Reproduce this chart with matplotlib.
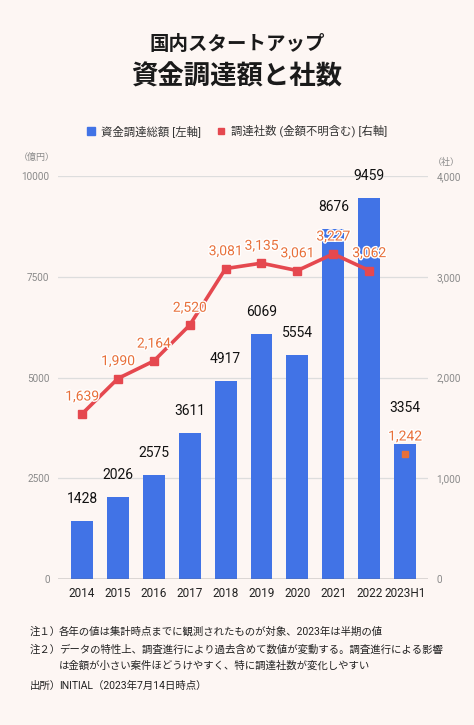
import matplotlib
matplotlib.use("Agg")
import matplotlib.pyplot as plt
import matplotlib.patheffects as pe
from matplotlib.lines import Line2D

plt.rcParams['font.family'] = ['Roboto', 'Noto Sans CJK JP', 'DejaVu Sans']

years = ["2014", "2015", "2016", "2017", "2018", "2019", "2020", "2021", "2022", "2023H1"]
amount = [1428, 2026, 2575, 3611, 4917, 6069, 5554, 8676, 9459, 3354]
companies = [1639, 1990, 2164, 2520, 3081, 3135, 3061, 3227, 3062, 1242]
left_ticks = [0, 2500, 5000, 7500, 10000]
right_ticks = [0, 1000, 2000, 3000, 4000]
notes = [
    ("注１）", "各年の値は集計時点までに観測されたものが対象、2023年は半期の値"),
    ("注２）", "データの特性上、調査進行により過去含めて数値が変動する。調査進行による影響"),
    ("", "は金額が小さい案件ほどうけやすく、特に調達社数が変化しやすい"),
    ("出所）", "INITIAL（2023年7月14日時点）"),
]

BG = "#fdf6f3"
BLUE = "#4173e6"
RED = "#e5484f"
ORANGE = "#e8703a"

fig = plt.figure(figsize=(4.74, 7.25), dpi=100, facecolor=BG)
ax = fig.add_axes([58 / 474, 1 - 579 / 725, 370 / 474, 403 / 725])
ax.set_facecolor(BG)
ax2 = ax.twinx()

x = list(range(len(years)))
ax.bar(x, amount, width=0.61, color=BLUE, zorder=2)
for xi, v in zip(x, amount):
    # last label lifted so it clears the company-count label
    off = 26 if xi == x[-1] else 16
    ax.annotate(str(v), (xi, v), xytext=(0, off), textcoords="offset points",
                ha="center", va="center", fontsize=10, color="#111111", zorder=5)

# line for full years, separate point for 2023H1
ax2.plot(x[:-1], companies[:-1], color=RED, lw=2.6, marker="s", ms=5.5, zorder=3)
ax2.plot(x[-1:], companies[-1:], color=ORANGE, lw=0, marker="s", ms=5, zorder=3)
for xi, v in zip(x, companies):
    ax2.annotate(f"{v:,}", (xi, v), xytext=(0, 12.5), textcoords="offset points",
                 ha="center", va="center", fontsize=10, color=ORANGE, zorder=6,
                 path_effects=[pe.withStroke(linewidth=2, foreground="white")])

ax.set_xlim(-0.67, 9.64)
ax.set_ylim(0, 10000)
ax2.set_ylim(0, 4000)
ax.set_yticks(left_ticks)
ax2.set_yticks(right_ticks)
ax2.set_yticklabels([f"{t:,}" for t in right_ticks])
ax.set_xticks(x)
ax.set_xticklabels(years)
ax.grid(axis="y", color="#dddddd", lw=0.9, zorder=0)
ax.set_axisbelow(True)
ax.axhline(0, color="#666666", lw=1, zorder=4)

for a in (ax, ax2):
    for s in a.spines.values():
        s.set_visible(False)
    a.tick_params(length=0)
ax.tick_params(axis="y", labelsize=7.2, labelcolor="#8a8a8a", pad=6)
ax2.tick_params(axis="y", labelsize=7.2, labelcolor="#8a8a8a", pad=6)
ax.tick_params(axis="x", labelsize=8.5, labelcolor="#222222", pad=6)

ax2.set_zorder(ax.get_zorder() + 1)
ax2.patch.set_visible(False)

fig.text(37 / 474, 1 - 157 / 725, "（億円）", ha="center", va="center", fontsize=6.5, color="#8a8a8a")
fig.text(446 / 474, 1 - 162 / 725, "（社）", ha="center", va="center", fontsize=6.5, color="#8a8a8a")

fig.text(0.5, 1 - 44 / 725, "国内スタートアップ", ha="center", va="center",
         fontsize=14, fontweight="bold", color="#1a1a1a")
fig.text(0.5, 1 - 77 / 725, "資金調達額と社数", ha="center", va="center",
         fontsize=19, fontweight="bold", color="#1a1a1a")

handles = [
    Line2D([], [], color=BLUE, marker="s", ls="none", ms=6),
    Line2D([], [], color=RED, marker="s", ls="none", ms=5),
]
fig.legend(handles, ["資金調達総額 [左軸]", "調達社数 (金額不明含む) [右軸]"],
           loc="center", bbox_to_anchor=(0.5, 1 - 131 / 725), ncol=2, frameon=False,
           fontsize=8.2, handlelength=0.8, handletextpad=0.5, columnspacing=1.3,
           labelcolor="#333333")

note_y = [632, 650, 666, 686]
for (head, body), y in zip(notes, note_y):
    if head:
        fig.text(30 / 474, 1 - y / 725, head, ha="left", va="center", fontsize=7.5, color="#222222")
    fig.text(59 / 474, 1 - y / 725, body, ha="left", va="center", fontsize=7.5, color="#222222")

fig.savefig("out.png", dpi=100, facecolor=BG)
